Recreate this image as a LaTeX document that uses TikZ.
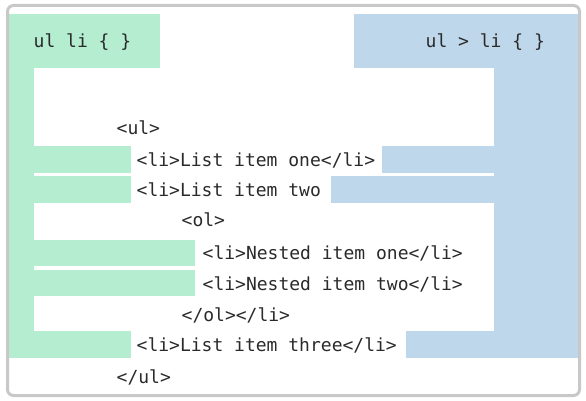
\documentclass[tikz,border=0pt]{standalone}
\usepackage{fontspec}
\usepackage{xcolor}
\usepackage{tikz}
\newfontfamily\codefont{DejaVu Sans Mono}
\definecolor{selgreen}{HTML}{B5EDD1}
\definecolor{selblue}{HTML}{BFD7EA}
\definecolor{framegray}{HTML}{C8C8C8}
\definecolor{codetext}{HTML}{2A2A2A}

\begin{document}
\begin{tikzpicture}[x=1pt,y=-1pt,
  code/.style={anchor=base west,inner sep=0pt,text=codetext,
    font={\codefont\fontsize{18}{20}\selectfont}},
  greenhl/.style={fill=selgreen},
  bluehl/.style={fill=selblue}]
  \useasboundingbox (0,0) rectangle (586,401);
  % ul li { } : every li inside the ul
  \fill[greenhl] (9,14) rectangle (160,68);
  \fill[greenhl] (9,68) rectangle (34,358);
  \fill[greenhl] (34,146) rectangle (131,173);
  \fill[greenhl] (34,176) rectangle (131,203);
  \fill[greenhl] (34,240) rectangle (195,266);
  \fill[greenhl] (34,270) rectangle (195,296);
  \fill[greenhl] (34,331) rectangle (131,358);
  % ul > li { } : only the direct children
  \fill[bluehl] (354,14) rectangle (578,68);
  \fill[bluehl] (494,68) rectangle (578,358);
  \fill[bluehl] (382,146) rectangle (494,173);
  \fill[bluehl] (331,176) rectangle (494,203);
  \fill[bluehl] (406,331) rectangle (578,358);
  % frame
  \draw[framegray,line width=3pt,rounded corners=6pt] (7.5,5.5) rectangle (579.5,395.5);
  % selectors
  \node[code] (descsel) at (33.5,47.5) {ul li \{ \}};
  \node[code] (childsel) at (425.5,47.5) {ul > li \{ \}};
  % markup
  \node[code] (ulopen) at (116.5,135) {<ul>};
  \node[code] (itemone) at (136.5,166) {<li>List item one</li>};
  \node[code] (itemtwo) at (136.5,196) {<li>List item two};
  \node[code] (olopen) at (181.5,226.5) {<ol>};
  \node[code] (nestone) at (202.5,259.5) {<li>Nested item one</li>};
  \node[code] (nesttwo) at (202.5,290) {<li>Nested item two</li>};
  \node[code] (olclose) at (181.5,321.5) {</ol></li>};
  \node[code] (itemthree) at (136.5,351) {<li>List item three</li>};
  \node[code] (ulclose) at (116.5,383) {</ul>};
\end{tikzpicture}
\end{document}
